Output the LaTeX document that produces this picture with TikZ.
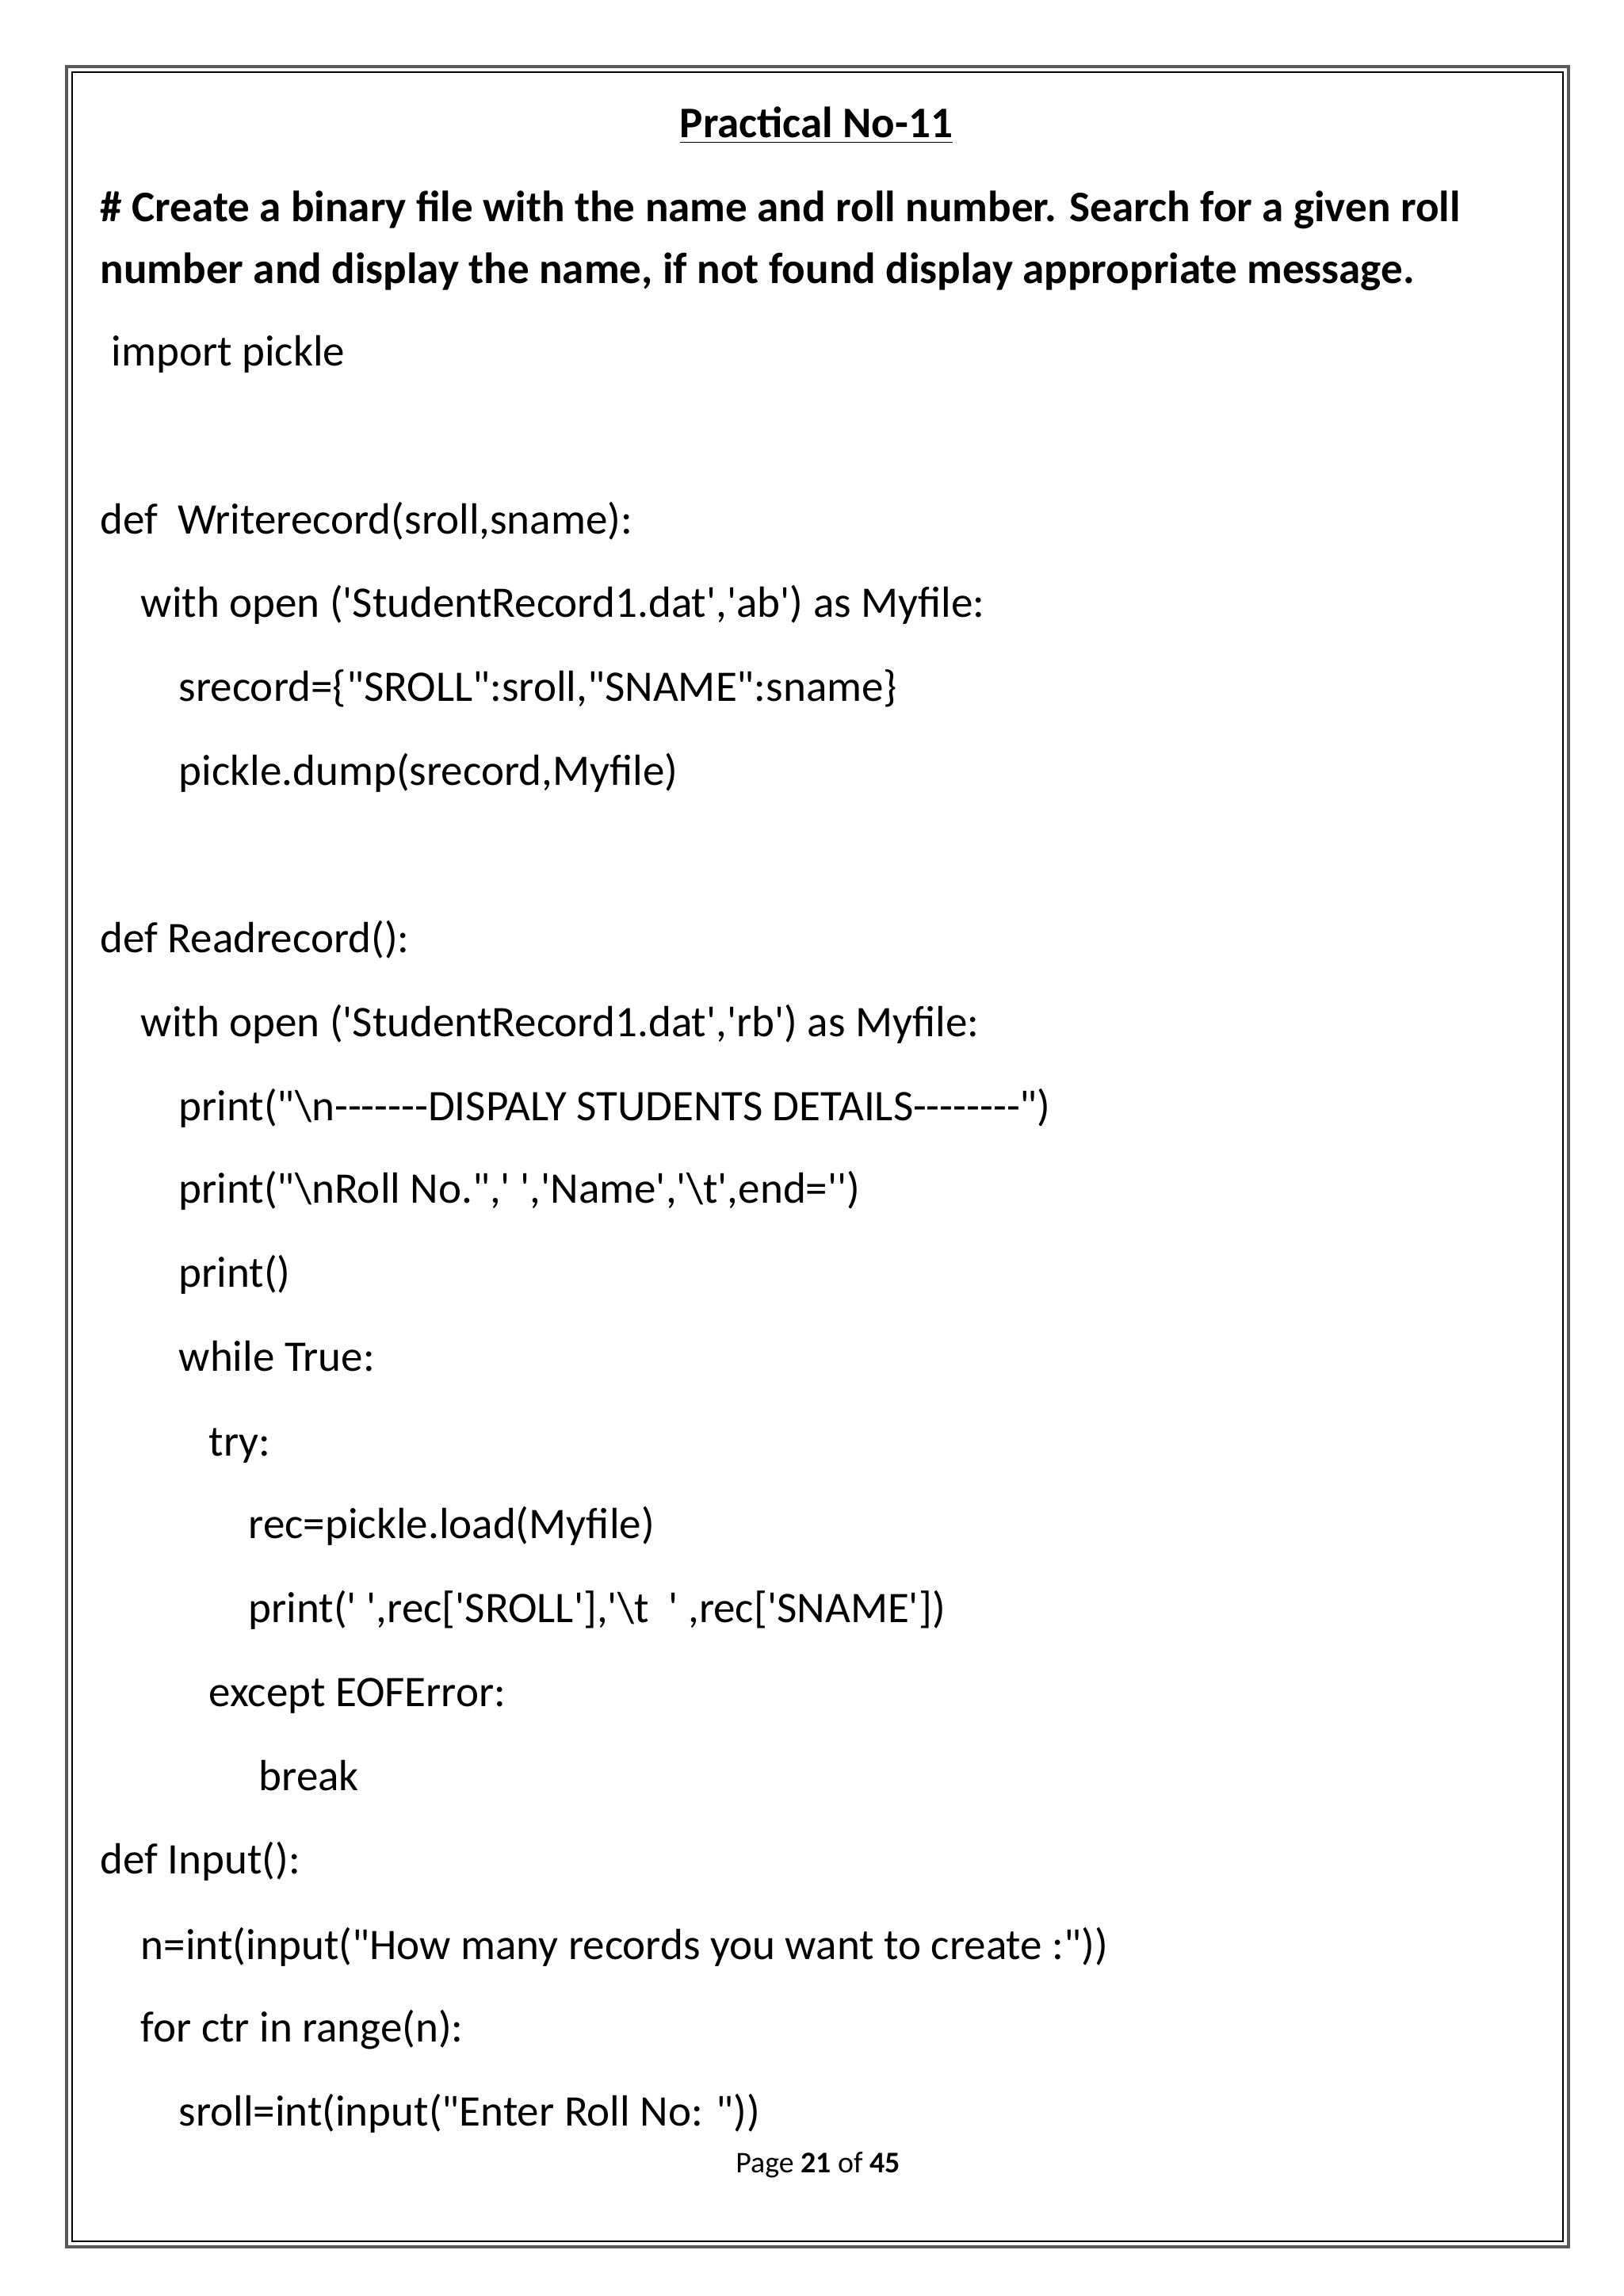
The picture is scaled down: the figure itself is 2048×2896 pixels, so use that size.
\documentclass[tikz,border=0pt]{standalone}
\usepackage{fontspec}
\newfontfamily\code{Carlito}
\begin{document}
\begin{tikzpicture}[x=0.2906pt,y=-0.2906pt,
  ln/.style={anchor=base west,inner sep=0pt,font=\code\fontsize{16}{18}\selectfont}]
\useasboundingbox (0,0) rectangle (2048,2896);
\draw[line width=1.2pt,gray!70!black] (84,84) rectangle (1979,2834);
\draw[line width=0.6pt] (91,91) rectangle (1972,2827);
\node[anchor=base,inner sep=0pt,font=\code\bfseries\fontsize{16}{18}\selectfont] (t) at (1030,174) {\underline{Practical No-11}};
\node[ln,font=\code\bfseries\fontsize{16}{18}\selectfont] (h1) at (126,280) {\# Create a binary file with the name and roll number. Search for a given roll};
\node[ln,font=\code\bfseries\fontsize{16}{18}\selectfont] (h2) at (126,358) {number and display the name, if not found display appropriate message.};
\foreach \x/\y/\t [count=\i] in {
140/462/{import pickle},
126/674/{def\ \ Writerecord(sroll,sname):},
177/778/{with open ('StudentRecord1.dat','ab') as Myfile:},
225/884/{srecord=\{"SROLL":sroll,"SNAME":sname\}},
225/990/{pickle.dump(srecord,Myfile)},
126/1201/{def Readrecord():},
177/1307/{with open ('StudentRecord1.dat','rb') as Myfile:},
225/1413/{print("\textbackslash n-------DISPALY STUDENTS DETAILS--------")},
225/1517/{print("\textbackslash nRoll No.",' ','Name','\textbackslash t',end='')},
225/1623/{print()},
225/1729/{while True:},
263/1836/{try:},
313/1940/{rec=pickle.load(Myfile)},
313/2046/{print(' ',rec['SROLL'],'\textbackslash t\ \ ' ,rec['SNAME'])},
263/2152/{except EOFError:},
326/2258/{break},
126/2363/{def Input():},
177/2471/{n=int(input("How many records you want to create :"))},
177/2575/{for ctr in range(n):},
225/2681/{sroll=int(input("Enter Roll No: "))}}
  \node[ln] (l\i) at (\x,\y) {\t};
\node[anchor=base,inner sep=0pt,font=\code\fontsize{11}{13}\selectfont] (pg) at (1032,2740) {Page \textbf{21} of \textbf{45}};
\end{tikzpicture}
\end{document}
